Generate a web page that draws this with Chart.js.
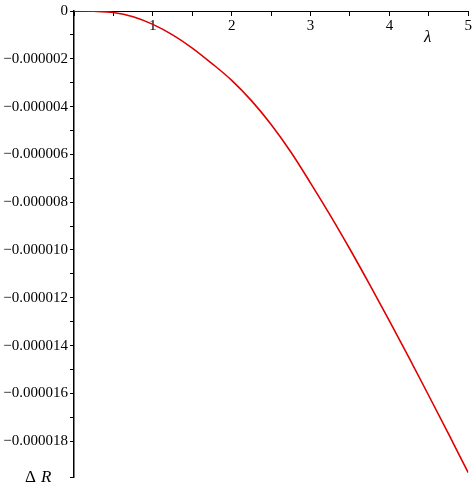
<!DOCTYPE html>
<html><head><meta charset="utf-8">
<script src="https://cdn.jsdelivr.net/npm/chart.js@4"></script>
<style>html,body{margin:0;padding:0;background:#fff}#w{width:474px;height:488px}</style>
</head><body><div id="w"><canvas id="c"></canvas></div>
<script>
const lambdaValues = [0, 0.25, 0.5, 0.75, 1, 1.25, 1.5, 1.75, 2, 2.25, 2.5, 2.75, 3, 3.25, 3.5, 3.75, 4, 4.25, 4.5, 4.75, 5];
const deltaR = [0, -0.01e-6, -0.06e-6, -0.24e-6, -0.56e-6, -1.0e-6, -1.55e-6, -2.2e-6, -2.9e-6, -3.75e-6, -4.75e-6, -5.9e-6, -7.2e-6, -8.55e-6, -9.97e-6, -11.45e-6, -12.97e-6, -14.52e-6, -16.1e-6, -17.7e-6, -19.32e-6];
const font = {family: "'Liberation Serif', 'DejaVu Serif', serif", size: 15};
const labels = {
  id: 'labels',
  afterDraw(ch) {
    const c = ch.ctx; c.save(); c.fillStyle = '#000';
    c.font = "italic 17px 'Liberation Serif', serif";
    c.fillText('λ', 424, 42);
    c.font = "17px 'Liberation Serif', serif";
    c.fillText('Δ', 25, 482);
    c.font = "italic 17px 'Liberation Serif', serif";
    c.fillText('R', 41, 482);
    c.restore();
  }
};
new Chart(document.getElementById('c'), {
  type: 'line',
  data: { datasets: [{ data: lambdaValues.map((x, i) => ({x, y: deltaR[i]})), borderColor: '#e00000', borderWidth: 1.6, pointRadius: 0, cubicInterpolationMode: 'monotone' }] },
  options: {
    animation: false, responsive: true, maintainAspectRatio: false,
    layout: { padding: { top: 5, right: 3, left: 0, bottom: -12 } },
    plugins: { legend: {display: false}, tooltip: {enabled: false} },
    scales: {
      x: { type: 'linear', min: 0, max: 5, position: {y: 0},
        border: {color: '#000', width: 1},
        grid: { drawOnChartArea: false, color: '#000', tickLength: 4 },
        ticks: { stepSize: 0.5, color: '#000', font, padding: 2, autoSkip: false, maxRotation: 0,
          callback: v => (Number.isInteger(v) && v !== 0) ? String(v) : '' } },
      y: { min: -0.0000195, max: 0,
        afterFit: s => { s.width = 74; },
        border: {color: '#000', width: 1.5},
        grid: { drawOnChartArea: false, color: '#000', tickLength: 4 },
        ticks: { stepSize: 1e-6, color: '#000', font, padding: 2, autoSkip: false,
          callback: v => { const r = -v * 1e6; const n = Math.round(r); if (Math.abs(r - n) > 0.01 || n % 2) return ''; return n === 0 ? '0' : '\u2212' + (n / 1e6).toFixed(6); } } }
    }
  },
  plugins: [labels]
});
</script></body></html>
